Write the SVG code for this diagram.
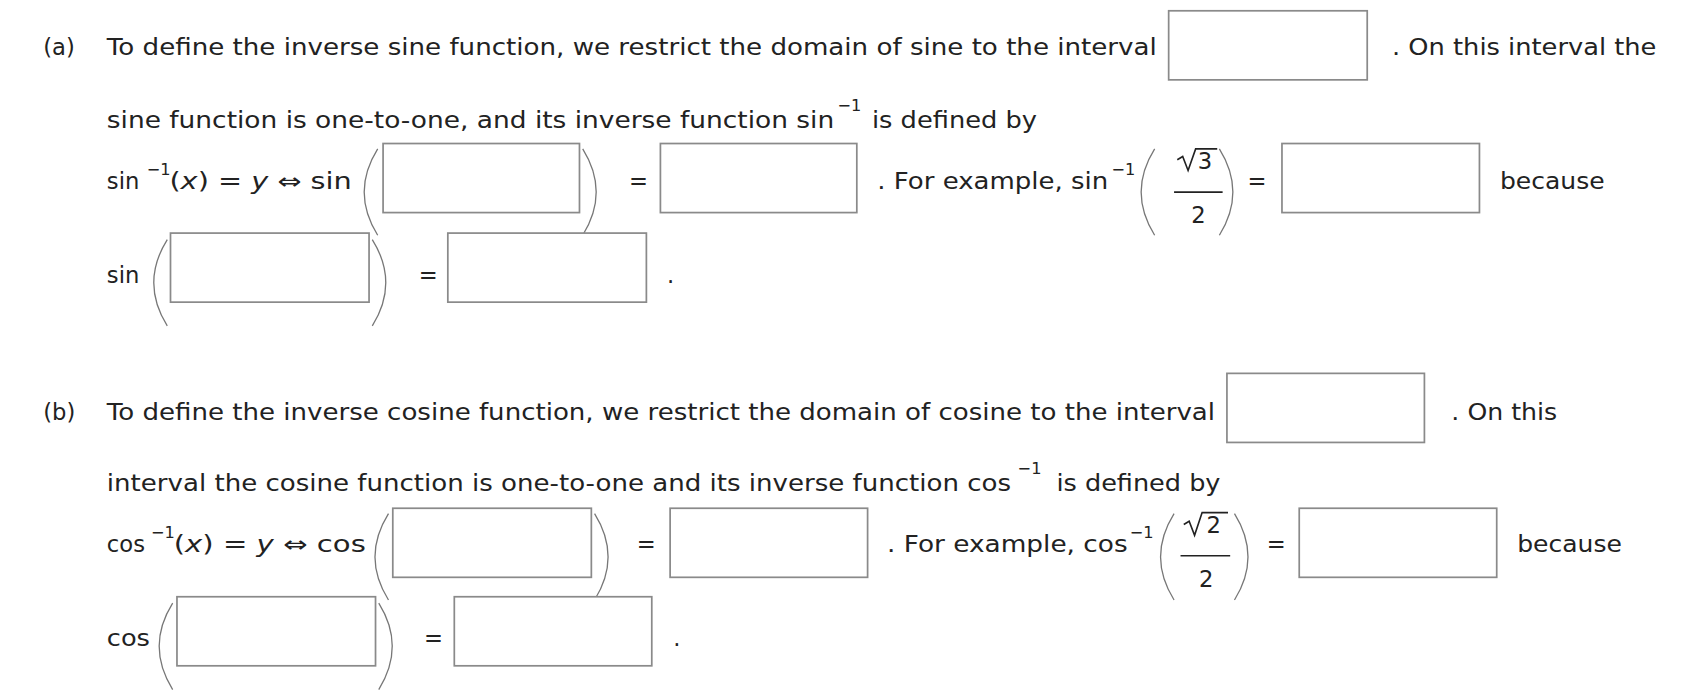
<svg xmlns="http://www.w3.org/2000/svg" width="1692" height="696" viewBox="0 0 1692 696">
<style>
text{font-family:"DejaVu Sans","Liberation Sans",sans-serif;font-size:21px;fill:#222}
.sup{font-size:15px}
.box{fill:#fff;stroke:#8a8a8a;stroke-width:1.6}
.par{fill:none;stroke:#777;stroke-width:1.2}
.bar{stroke:#222;stroke-width:1.5}
</style>
<rect width="1692" height="696" fill="#fff"/>
<g transform="scale(1.0791)">
<g id="partA">
<text x="40" y="51">(a)</text>
<text x="99" y="51" textLength="973" lengthAdjust="spacingAndGlyphs">To define the inverse sine function, we restrict the domain of sine to the interval</text>
<rect id="a-box1" class="box" x="1083" y="10" width="184" height="64"/>
<text x="1290" y="51" textLength="245" lengthAdjust="spacingAndGlyphs">. On this interval the</text>
<text x="99" y="119" textLength="674" lengthAdjust="spacingAndGlyphs">sine function is one-to-one, and its inverse function sin</text>
<text class="sup" x="776" y="103" font-size="20">−1</text>
<text x="808" y="119" textLength="153" lengthAdjust="spacingAndGlyphs">is defined by</text>
<text x="99" y="175">sin</text><text class="sup" x="136" y="162">−1</text>
<text x="157" y="175" textLength="169" lengthAdjust="spacingAndGlyphs">(<tspan font-style="italic">x</tspan>) = <tspan font-style="italic">y</tspan> ⇔ sin</text>
<path class="par" d="M350,138 Q325,178 350,218"/>
<rect class="box" x="355" y="133" width="182" height="64"/>
<path class="par" d="M540,138 Q565,178 540,218"/>
<text x="583" y="175">=</text>
<rect class="box" x="612" y="133" width="182" height="64"/>
<text x="813" y="175" textLength="214" lengthAdjust="spacingAndGlyphs">. For example, sin</text>
<text class="sup" x="1030" y="162">−1</text>
<path class="par" d="M1070,138 Q1045,178 1070,218"/>
<path class="bar" d="M1091,148 L1096,145 L1101,158 L1108,138 L1128,138" fill="none" stroke-width="1.2"/>
<text x="1110" y="157" font-size="19">3</text>
<line class="bar" x1="1088" y1="178" x2="1133" y2="178"/>
<text x="1104" y="207" font-size="19">2</text>
<path class="par" d="M1130,138 Q1155,178 1130,218"/>
<text x="1156" y="175">=</text>
<rect class="box" x="1188" y="133" width="183" height="64"/>
<text x="1390" y="175" textLength="97" lengthAdjust="spacingAndGlyphs">because</text>
<text x="99" y="262">sin</text>
<path class="par" d="M155,222 Q130,262 155,302"/>
<rect class="box" x="158" y="216" width="184" height="64"/>
<path class="par" d="M345,222 Q370,262 345,302"/>
<text x="388" y="262">=</text>
<rect class="box" x="415" y="216" width="184" height="64"/>
<text x="618" y="262">.</text>
</g>
<g id="partB">
<text x="40" y="389">(b)</text>
<text x="99" y="389" textLength="1027" lengthAdjust="spacingAndGlyphs">To define the inverse cosine function, we restrict the domain of cosine to the interval</text>
<rect class="box" x="1137" y="346" width="183" height="64"/>
<text x="1345" y="389" textLength="98" lengthAdjust="spacingAndGlyphs">. On this</text>
<text x="99" y="455" textLength="838" lengthAdjust="spacingAndGlyphs">interval the cosine function is one-to-one and its inverse function cos</text>
<text class="sup" x="943" y="439" font-size="20">−1</text>
<text x="979" y="455" textLength="152" lengthAdjust="spacingAndGlyphs">is defined by</text>
<text x="99" y="512">cos</text><text class="sup" x="140" y="499">−1</text>
<text x="161" y="512" textLength="178" lengthAdjust="spacingAndGlyphs">(<tspan font-style="italic">x</tspan>) = <tspan font-style="italic">y</tspan> ⇔ cos</text>
<path class="par" d="M360,476 Q335,516 360,556"/>
<rect class="box" x="364" y="471" width="184" height="64"/>
<path class="par" d="M551,476 Q576,516 551,556"/>
<text x="590" y="512">=</text>
<rect class="box" x="621" y="471" width="183" height="64"/>
<text x="822" y="512" textLength="223" lengthAdjust="spacingAndGlyphs">. For example, cos</text>
<text class="sup" x="1047" y="499">−1</text>
<path class="par" d="M1088,476 Q1063,516 1088,556"/>
<path class="bar" d="M1097,486 L1102,483 L1107,496 L1114,475 L1138,475" fill="none" stroke-width="1.2"/>
<text x="1118" y="494" font-size="19">2</text>
<line class="bar" x1="1094" y1="515" x2="1140" y2="515"/>
<text x="1111" y="544" font-size="19">2</text>
<path class="par" d="M1144,476 Q1169,516 1144,556"/>
<text x="1174" y="512">=</text>
<rect class="box" x="1204" y="471" width="183" height="64"/>
<text x="1406" y="512" textLength="97" lengthAdjust="spacingAndGlyphs">because</text>
<text x="99" y="599" textLength="40" lengthAdjust="spacingAndGlyphs">cos</text>
<path class="par" d="M160,559 Q135,599 160,639"/>
<rect class="box" x="164" y="553" width="184" height="64"/>
<path class="par" d="M351,559 Q376,599 351,639"/>
<text x="393" y="599">=</text>
<rect class="box" x="421" y="553" width="183" height="64"/>
<text x="624" y="599">.</text>
</g>
</g>
</svg>
